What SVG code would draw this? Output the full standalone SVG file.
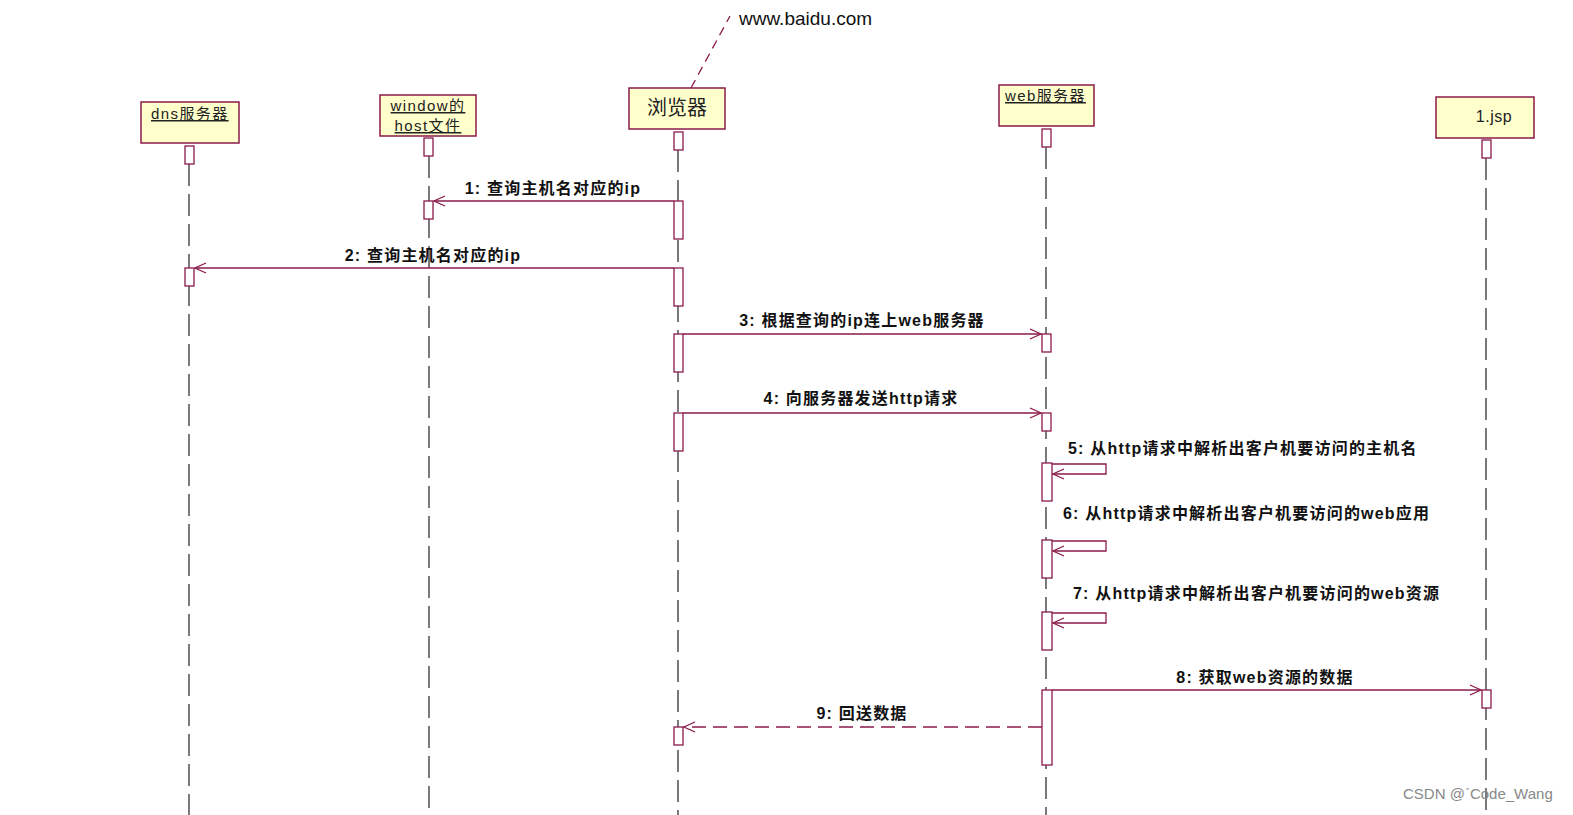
<svg xmlns="http://www.w3.org/2000/svg" width="1573" height="815" viewBox="0 0 1573 815">
<style>
.box{fill:#ffffcc;stroke:#8a1a4a;stroke-width:1.5}
.act{fill:#ffffff;stroke:#8a1a4a;stroke-width:1.3}
.life{stroke:#333;stroke-width:1.3;stroke-dasharray:22 8;fill:none}
.msg{stroke:#8a1a4a;stroke-width:1.3;fill:none}
.ret{stroke:#8a1a4a;stroke-width:1.3;fill:none;stroke-dasharray:14 7}
.nm{font-family:"Liberation Sans","Noto Sans CJK SC",sans-serif;font-size:15px;letter-spacing:1.4px;fill:#222;text-decoration:underline}
.lbl{font-family:"Liberation Sans","Noto Sans CJK SC",sans-serif;font-size:16px;letter-spacing:1.2px;font-weight:bold;fill:#111}
</style>
<defs>
<marker id="arr" markerWidth="14" markerHeight="12" refX="12" refY="6" orient="auto" markerUnits="userSpaceOnUse">
<path d="M1,1 L12,6 L1,11" fill="none" stroke="#8a1a4a" stroke-width="1.3"/>
</marker>
</defs>
<rect width="1573" height="815" fill="#ffffff"/>

<g id="lifelines">
<line class="life" x1="189" y1="164" x2="189" y2="815"/>
<line class="life" x1="429" y1="156" x2="429" y2="815"/>
<line class="life" x1="678" y1="150" x2="678" y2="815"/>
<line class="life" x1="1046" y1="147" x2="1046" y2="815"/>
<line class="life" x1="1486" y1="158" x2="1486" y2="815"/>
</g>

<g id="note">
<line x1="691" y1="88" x2="730" y2="16" stroke="#8a1a4a" stroke-width="1.3" stroke-dasharray="9 6"/>
<text x="739" y="25" font-family="Liberation Sans, Noto Sans CJK SC, sans-serif" font-size="19" fill="#111">www.baidu.com</text>
</g>

<g id="dns">
<rect class="box" x="141" y="102" width="98" height="41"/>
<text class="nm" x="151" y="119">dns服务器</text>
<rect class="act" x="185" y="146" width="9" height="18"/>
</g>

<g id="host">
<rect class="box" x="380" y="95" width="96" height="41"/>
<text class="nm" x="428" y="111" text-anchor="middle">window的</text>
<text class="nm" x="428" y="131" text-anchor="middle">host文件</text>
<rect class="act" x="424" y="138" width="9" height="18"/>
</g>

<g id="browser">
<rect class="box" x="629" y="88" width="96" height="41"/>
<text x="677" y="115" text-anchor="middle" font-family="Noto Sans CJK SC, sans-serif" font-size="20" fill="#222">浏览器</text>
<rect class="act" x="674" y="132" width="9" height="18"/>
</g>

<g id="webserver">
<rect class="box" x="999" y="85" width="95" height="41"/>
<text class="nm" x="1005" y="101">web服务器</text>
<rect class="act" x="1042" y="129" width="9" height="18"/>
</g>

<g id="jsp">
<rect class="box" x="1436" y="97" width="98" height="41"/>
<text x="1494" y="122" text-anchor="middle" font-family="Liberation Sans, sans-serif" font-size="16" letter-spacing="0.5" fill="#222">1.jsp</text>
<rect class="act" x="1482" y="140" width="9" height="18"/>
</g>

<g id="activations">
<rect class="act" x="674" y="201" width="9" height="38"/>
<rect class="act" x="424" y="201" width="9" height="18"/>
<rect class="act" x="674" y="268" width="9" height="38"/>
<rect class="act" x="185" y="268" width="9" height="18"/>
<rect class="act" x="674" y="334" width="9" height="38"/>
<rect class="act" x="1042" y="334" width="9" height="18"/>
<rect class="act" x="674" y="413" width="9" height="38"/>
<rect class="act" x="1042" y="413" width="9" height="18"/>
<rect class="act" x="1042" y="463" width="10" height="38"/>
<rect class="act" x="1042" y="540" width="10" height="38"/>
<rect class="act" x="1042" y="612" width="10" height="38"/>
<rect class="act" x="1042" y="690" width="10" height="75"/>
<rect class="act" x="1482" y="690" width="9" height="18"/>
<rect class="act" x="674" y="727" width="9" height="18"/>
</g>

<g id="connectors">
<line class="msg" x1="674" y1="201" x2="434" y2="201" marker-end="url(#arr)"/>
<line class="msg" x1="674" y1="268" x2="195" y2="268" marker-end="url(#arr)"/>
<line class="msg" x1="683" y1="334" x2="1041" y2="334" marker-end="url(#arr)"/>
<line class="msg" x1="683" y1="413" x2="1041" y2="413" marker-end="url(#arr)"/>
<polyline class="msg" points="1052,464 1106,464 1106,474 1053,474" marker-end="url(#arr)"/>
<polyline class="msg" points="1052,541 1106,541 1106,551 1053,551" marker-end="url(#arr)"/>
<polyline class="msg" points="1052,613 1106,613 1106,623 1053,623" marker-end="url(#arr)"/>
<line class="msg" x1="1052" y1="690" x2="1481" y2="690" marker-end="url(#arr)"/>
<line class="ret" x1="1042" y1="727" x2="684" y2="727" marker-end="url(#arr)"/>
</g>

<g id="labels">
<text class="lbl" x="553" y="194" text-anchor="middle">1: 查询主机名对应的ip</text>
<text class="lbl" x="433" y="261" text-anchor="middle">2: 查询主机名对应的ip</text>
<text class="lbl" x="862" y="326" text-anchor="middle">3: 根据查询的ip连上web服务器</text>
<text class="lbl" x="861" y="404" text-anchor="middle">4: 向服务器发送http请求</text>
<text class="lbl" x="1068" y="454">5: 从http请求中解析出客户机要访问的主机名</text>
<text class="lbl" x="1063" y="519">6: 从http请求中解析出客户机要访问的web应用</text>
<text class="lbl" x="1073" y="599">7: 从http请求中解析出客户机要访问的web资源</text>
<text class="lbl" x="1265" y="683" text-anchor="middle">8: 获取web资源的数据</text>
<text class="lbl" x="862" y="719" text-anchor="middle">9: 回送数据</text>
</g>

<text x="1403" y="799" font-family="Liberation Sans, sans-serif" font-size="15" fill="#888">CSDN @ˊCode_Wang</text>
</svg>
